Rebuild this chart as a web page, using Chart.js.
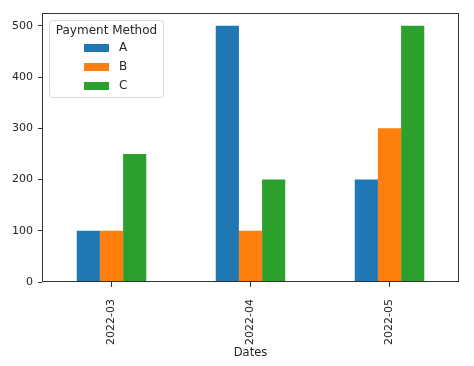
<!DOCTYPE html>
<html>
<head>
<meta charset="utf-8">
<script src="https://cdn.jsdelivr.net/npm/chart.js@4/dist/chart.umd.min.js"></script>
<style>
html,body{margin:0;padding:0;background:#fff;}
canvas{display:block;}
</style>
</head>
<body>
<canvas id="c" width="474" height="366"></canvas>
<script>
const categories = ['2022-03', '2022-04', '2022-05'];
const seriesA = [100, 500, 200];
const seriesB = [100, 100, 300];
const seriesC = [250, 200, 500];
const seriesNames = ['A', 'B', 'C'];
const seriesColors = ['#1f77b4', '#ff7f0e', '#2ca02c'];
const yTickValues = [0, 100, 200, 300, 400, 500];
const legendTitle = 'Payment Method';
const xTitle = 'Dates';

const FONT = 'DejaVu Sans';
const TXT = '#262626';

const framePlugin = {
  id: 'frame',
  afterDatasetsDraw(chart) {
    const {ctx, chartArea: a} = chart;
    ctx.save();
    ctx.strokeStyle = '#333';
    ctx.lineWidth = 1;
    ctx.strokeRect(Math.round(a.left) + 0.5, Math.round(a.top) + 0.5,
      Math.round(a.right - a.left) - 1, Math.round(a.bottom - a.top) - 1);
    ctx.restore();
  }
};

const legendPlugin = {
  id: 'boxLegend',
  afterDraw(chart) {
    const {ctx, chartArea: a} = chart;
    const x0 = a.left + 7, y0 = a.top + 7, w = 114, h = 77;
    ctx.save();
    ctx.fillStyle = 'rgba(255,255,255,0.85)';
    ctx.strokeStyle = '#d6d6d6';
    ctx.lineWidth = 1;
    ctx.beginPath();
    ctx.roundRect(x0 + 0.5, y0 + 0.5, w, h, 3);
    ctx.fill();
    ctx.stroke();
    ctx.fillStyle = TXT;
    ctx.font = '12px "' + FONT + '"';
    ctx.textAlign = 'center';
    ctx.textBaseline = 'middle';
    ctx.fillText(legendTitle, x0 + w / 2 + 0.5, y0 + 11);
    chart.data.datasets.forEach((ds, i) => {
      const cy = y0 + 28 + i * 19;
      ctx.fillStyle = ds.backgroundColor;
      ctx.fillRect(x0 + 35, cy - 4, 25, 8);
      ctx.fillStyle = TXT;
      ctx.textAlign = 'left';
      ctx.fillText(ds.label, x0 + 70, cy);
    });
    ctx.restore();
  }
};

const datasets = [seriesA, seriesB, seriesC].map((vals, i) => ({
  label: seriesNames[i],
  data: vals,
  backgroundColor: seriesColors[i],
  borderWidth: 0,
  categoryPercentage: 0.5,
  barPercentage: 1.0
}));

new Chart(document.getElementById('c'), {
  type: 'bar',
  data: { labels: categories, datasets },
  plugins: [framePlugin, legendPlugin],
  options: {
    responsive: false,
    animation: false,
    layout: { padding: { top: 13, right: 15, left: 0, bottom: 0 } },
    plugins: { legend: { display: false }, tooltip: { enabled: false } },
    scales: {
      x: {
        offset: true,
        border: { display: false },
        grid: { offset: false, drawOnChartArea: false, drawTicks: true, tickLength: 5, color: '#333' },
        ticks: { minRotation: 90, maxRotation: 90, padding: 12, color: TXT, font: { family: FONT, size: 11 } },
        title: { display: true, text: xTitle, color: TXT, font: { family: FONT, size: 11.5 }, padding: { top: 0, bottom: 6 } },
        afterFit: s => { s.height = 84; }
      },
      y: {
        min: 0,
        max: 525,
        border: { display: false },
        grid: { drawOnChartArea: false, drawTicks: true, tickLength: 4, color: '#333' },
        ticks: { padding: 5, color: TXT, font: { family: FONT, size: 11 } },
        afterBuildTicks: s => { s.ticks = yTickValues.map(v => ({ value: v })); },
        afterFit: s => { s.width = 42; }
      }
    }
  }
});
</script>
</body>
</html>
